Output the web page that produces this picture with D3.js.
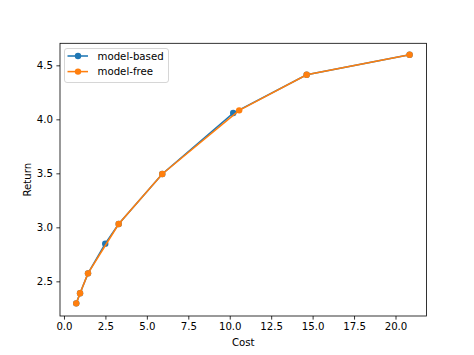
<!DOCTYPE html>
<html><head><meta charset="utf-8">
<script src="https://cdn.jsdelivr.net/npm/d3@7"></script>
<style>body{margin:0;background:#fff}svg{display:block}text{font-family:"DejaVu Sans",sans-serif}</style>
</head><body>
<script>
const seriesNames = ["model-based", "model-free"];
const colors = ["#1f77b4", "#ff7f0e"];
const costBased = [0.74, 0.97, 1.45, 2.49, 3.30, 5.93, 10.21, 14.64, 20.85];
const returnBased = [2.296, 2.389, 2.574, 2.849, 3.031, 3.494, 4.058, 4.413, 4.598];
const costFree = [0.74, 0.97, 1.45, 3.30, 5.93, 10.57, 14.64, 20.85];
const returnFree = [2.296, 2.389, 2.574, 3.031, 3.494, 4.083, 4.413, 4.598];
const xTicks = [0, 2.5, 5, 7.5, 10, 12.5, 15, 17.5, 20];
const yTicks = [2.5, 3.0, 3.5, 4.0, 4.5];

const W = 474, H = 355;
const L = 60, R = 426.5, T = 43.3, B = 316;
const svg = d3.select("body").append("svg").attr("width", W).attr("height", H);
const x = d3.scaleLinear().domain([-0.24, 21.87]).range([L, R]);
const y = d3.scaleLinear().domain([2.179, 4.704]).range([B, T]);

const series = [
  costBased.map((c, i) => [c, returnBased[i]]),
  costFree.map((c, i) => [c, returnFree[i]])
];
const line = d3.line().x(d => x(d[0])).y(d => y(d[1]));
series.forEach((s, k) => {
  const g = svg.append("g");
  g.append("path").attr("d", line(s)).attr("fill", "none").attr("stroke", colors[k]).attr("stroke-width", 1.55);
  g.selectAll("circle").data(s).join("circle").attr("cx", d => x(d[0])).attr("cy", d => y(d[1])).attr("r", 3.2).attr("fill", colors[k]);
});

const fmt = d3.format(".1f");
const xa = svg.append("g").attr("transform", `translate(0,${B})`).call(d3.axisBottom(x).tickValues(xTicks).tickFormat(fmt).tickSize(3.6).tickPadding(3.5));
const ya = svg.append("g").attr("transform", `translate(${L},0)`).call(d3.axisLeft(y).tickValues(yTicks).tickFormat(fmt).tickSize(3.6).tickPadding(3.5));
[xa, ya].forEach(a => {
  a.select(".domain").remove();
  a.selectAll("line").attr("stroke", "#000").attr("stroke-width", 0.8);
  a.selectAll("text").attr("font-size", 10.2).attr("fill", "#000").style("font-family", "DejaVu Sans");
});
svg.append("rect").attr("x", L).attr("y", T).attr("width", R - L).attr("height", B - T).attr("fill", "none").attr("stroke", "#000").attr("stroke-width", 0.8);

svg.append("text").attr("x", (L + R) / 2).attr("y", 346).attr("text-anchor", "middle").attr("font-size", 10.2).text("Cost");
svg.append("text").attr("transform", `translate(31,${(T + B) / 2}) rotate(-90)`).attr("text-anchor", "middle").attr("font-size", 10.2).text("Return");

const lg = svg.append("g");
lg.append("rect").attr("x", 64.5).attr("y", 48.5).attr("width", 104).attr("height", 34).attr("rx", 2.5).attr("fill", "#fff").attr("fill-opacity", 0.8).attr("stroke", "#ccc").attr("stroke-width", 0.8);
seriesNames.forEach((n, i) => {
  const yy = 56 + i * 15.6;
  lg.append("line").attr("x1", 67.5).attr("x2", 88).attr("y1", yy).attr("y2", yy).attr("stroke", colors[i]).attr("stroke-width", 1.55);
  lg.append("circle").attr("cx", 78).attr("cy", yy).attr("r", 3.2).attr("fill", colors[i]);
  lg.append("text").attr("x", 97.5).attr("y", yy + 3.6).attr("font-size", 10.2).text(n);
});
</script>
</body></html>
